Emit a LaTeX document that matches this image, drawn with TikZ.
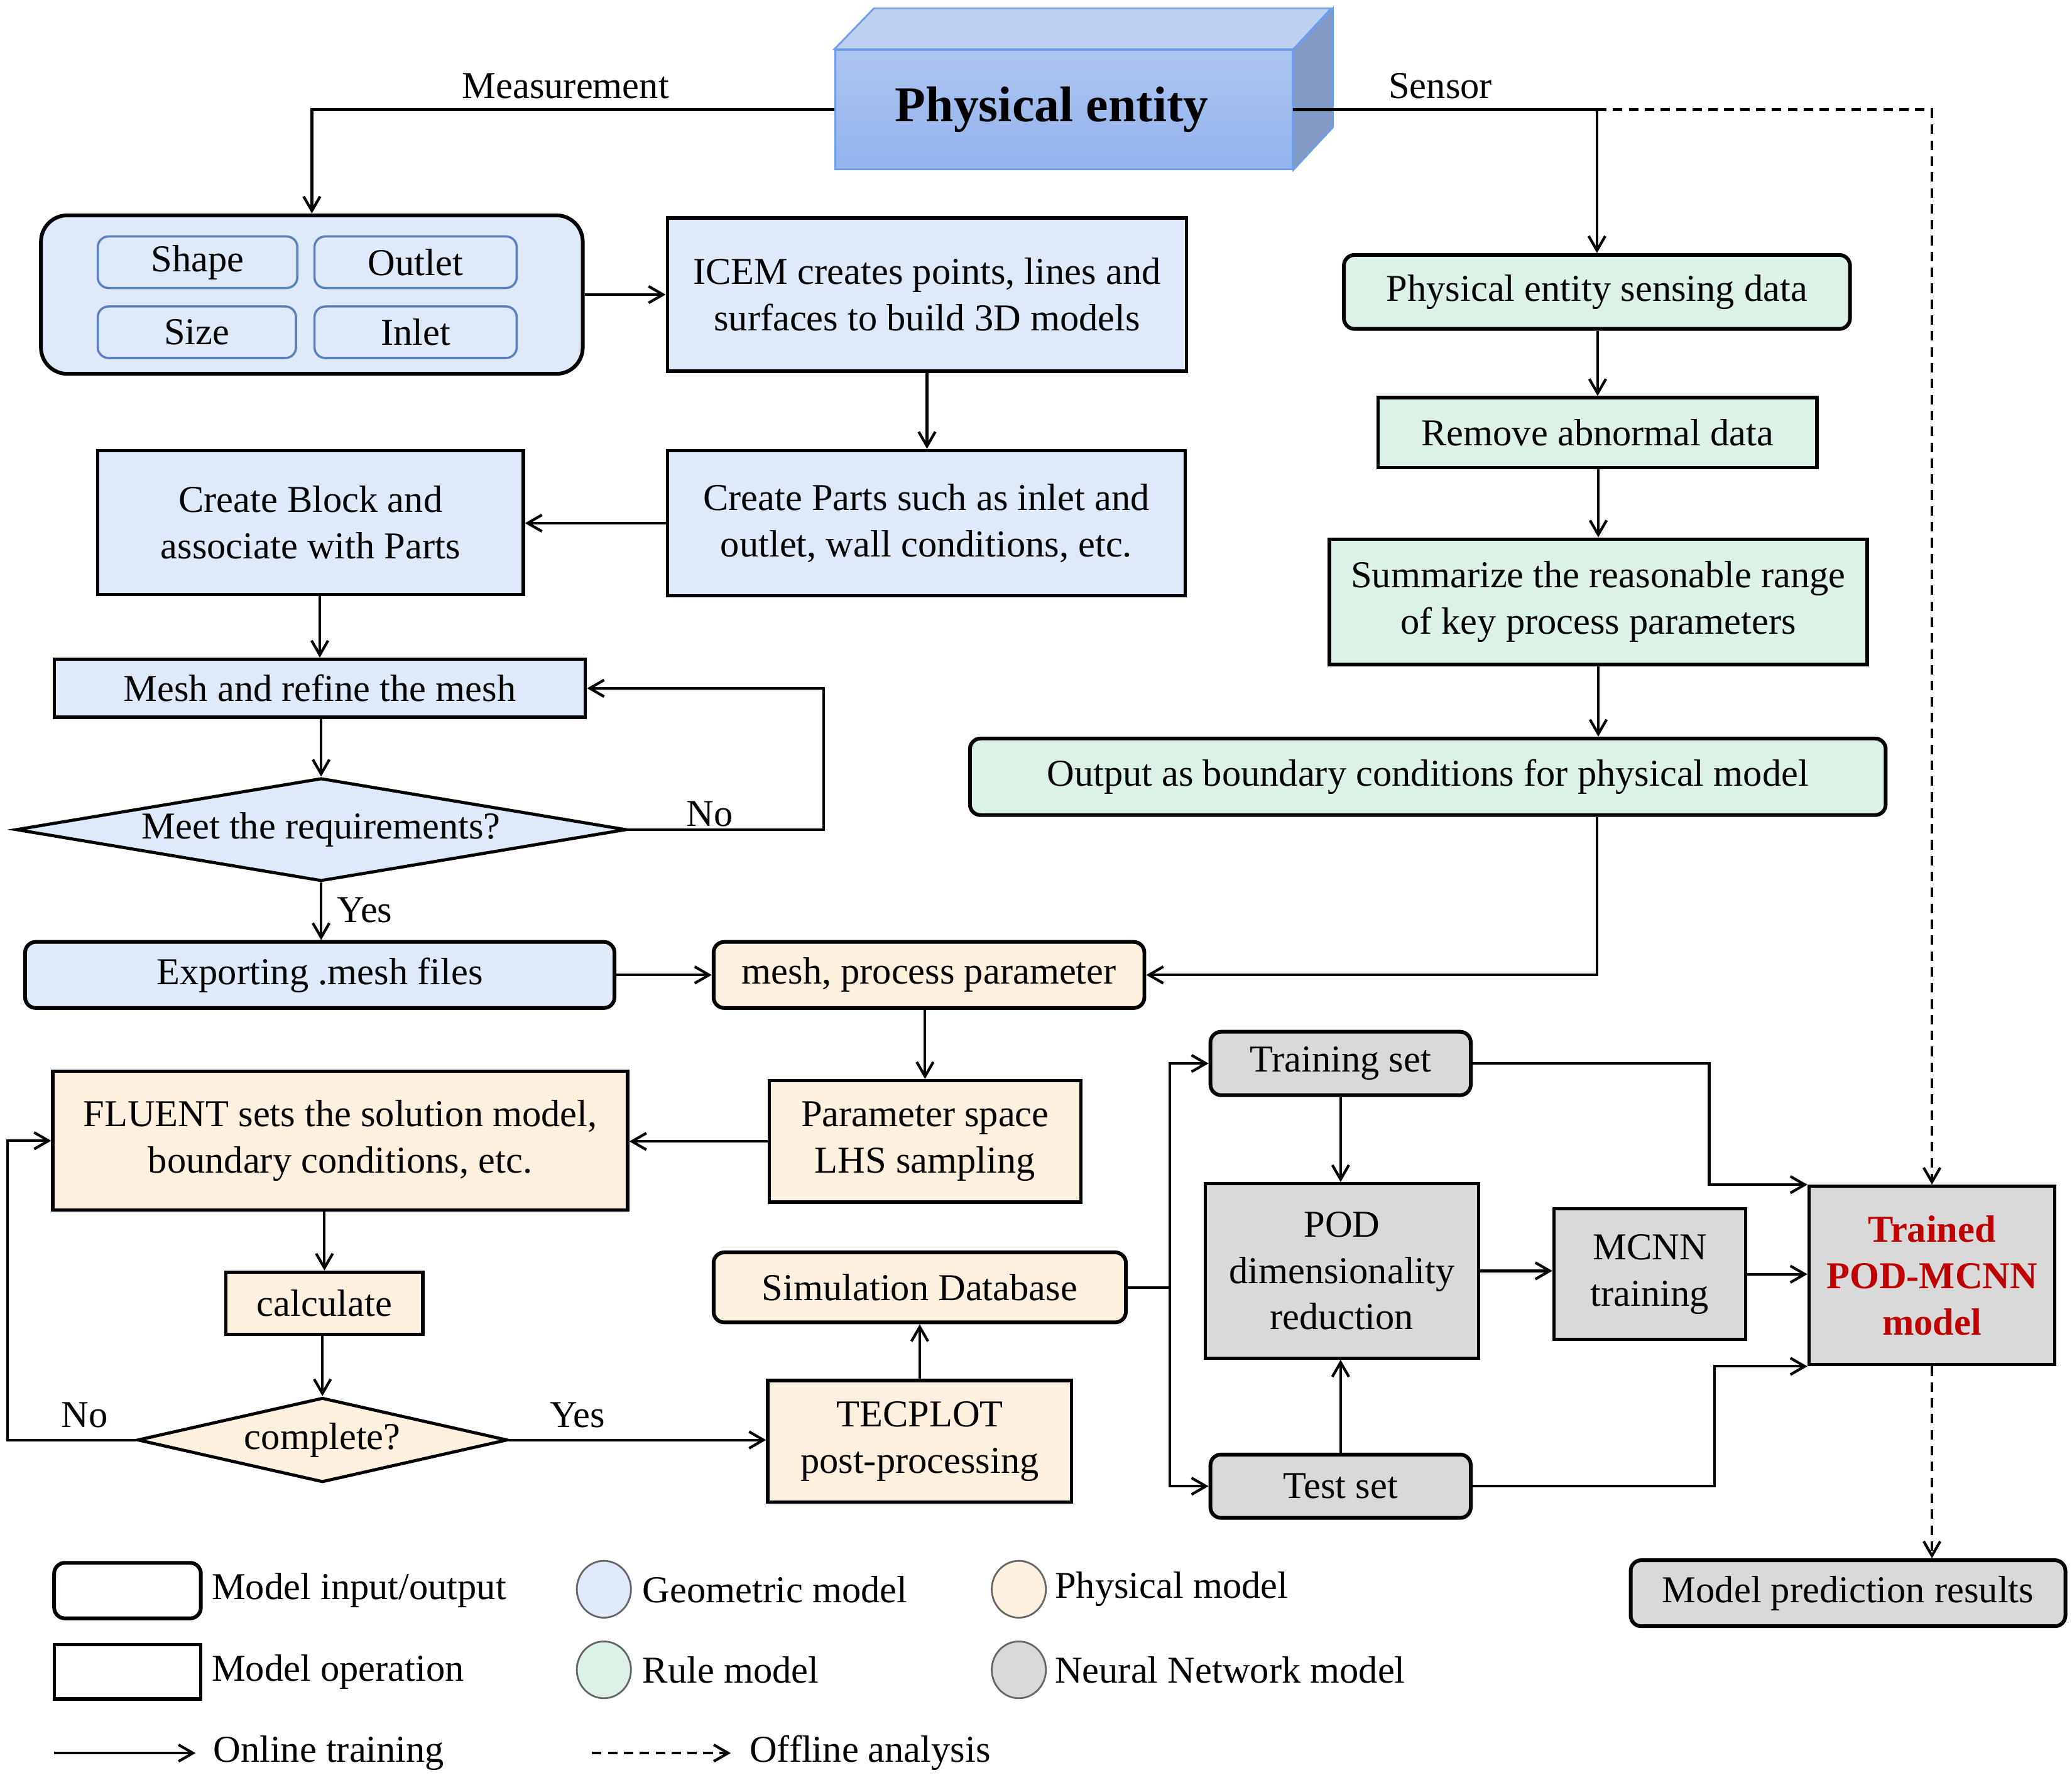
\documentclass[tikz,border=0pt]{standalone}
\usepackage{fontspec}
\setmainfont{Liberation Serif}
\usetikzlibrary{arrows.meta,shapes.geometric,calc}
\definecolor{geo}{HTML}{DEE9F9}
\definecolor{rule}{HTML}{DDF2E7}
\definecolor{phys}{HTML}{FDF0DF}
\definecolor{nn}{HTML}{D9D9D9}
\definecolor{inblue}{HTML}{5B7FBF}
\definecolor{peborder}{HTML}{6E9EEA}
\definecolor{petop}{HTML}{BFD1F3}
\definecolor{pefront1}{HTML}{ADC5F1}
\definecolor{pefront2}{HTML}{93B3EE}
\definecolor{peside}{HTML}{8399C6}
\definecolor{darkred}{HTML}{C00000}
\begin{document}
\begin{tikzpicture}[x={(0.021033cm,0)}, y={(0,-0.021033cm)},
  font=\fontsize{17.2}{21}\selectfont,
  sz/.style 2 args={minimum width=#1*0.021033cm, minimum height=#2*0.021033cm},
  base/.style={inner sep=0pt, align=center},
  opbox/.style={base, draw, line width=1.5pt},
  iobox/.style={base, draw, line width=1.7pt, rounded corners=0.17cm},
  inbox/.style={base, draw=inblue, line width=1pt, rounded corners=0.17cm, fill=geo},
  dia/.style={base, draw, line width=1.4pt, shape=diamond},
  ell/.style={draw=black!60, line width=0.8pt, shape=ellipse, inner sep=0pt},
  arr/.style={line width=1.2pt, -{Straight Barb[length=6.5pt,width=7.5pt]}},
  darr/.style={arr, dash pattern=on 4.3pt off 2.9pt},
  lbl/.style={inner sep=0pt}
]
\useasboundingbox (0,0) rectangle (1568,1347);

% Physical entity (3D box)
\node[base, sz={346}{90}, top color=pefront1, bottom color=pefront2, draw=peborder, line width=0.8pt] (pe) at (805,83) {};
\draw[draw=peborder, line width=0.8pt, fill=petop] (pe.north west) -- ++(30,-31) -- ++(346,0) -- (pe.north east) -- cycle;
\draw[draw=peborder, line width=0.8pt, fill=peside] (pe.north east) -- ++(30,-31) -- ++(0,90) -- (pe.south east) -- cycle;
\node[lbl, font=\fontsize{22.7}{26}\selectfont\bfseries] (pet) at (796,83) {Physical entity};

% Geometric column
\node[iobox, fill=geo, sz={410}{120}, rounded corners=0.42cm] (grp) at (236,223) {};
\node[inbox, sz={151}{39}] (shape) at (149.5,198.5) {Shape};
\node[inbox, sz={153}{39}] (outlet) at (314.5,198.5) {Outlet};
\node[inbox, sz={150}{39}] (size) at (149,251.5) {Size};
\node[inbox, sz={153}{39}] (inlet) at (314.5,251.5) {Inlet};

\node[opbox, fill=geo, sz={393}{116}] (icem) at (701.5,223) {ICEM creates points, lines and\\surfaces to build 3D models};
\node[opbox, fill=geo, sz={392}{110}] (parts) at (701,396) {Create Parts such as inlet and\\outlet, wall conditions, etc.};
\node[opbox, fill=geo, sz={322}{109}] (block) at (235,395.5) {Create Block and\\associate with Parts};
\node[opbox, fill=geo, sz={402}{44}] (mesh) at (242,521) {Mesh and refine the mesh};
\node[dia, fill=geo, sz={462}{78}, aspect=5.9] (req) at (243,628) {Meet the requirements?};
\node[iobox, fill=geo, sz={446}{50}] (exp) at (242,738) {Exporting .mesh files};

% Physical model
\node[iobox, fill=phys, sz={326}{50}] (mp) at (703,738) {mesh, process parameter};
\node[opbox, fill=phys, sz={236}{92}] (ps) at (700,864) {Parameter space\\LHS sampling};
\node[opbox, fill=phys, sz={435}{105}] (fl) at (257.5,863.5) {FLUENT sets the solution model,\\boundary conditions, etc.};
\node[opbox, fill=phys, sz={149}{47}] (calc) at (245.5,986.5) {calculate};
\node[dia, fill=phys, sz={280}{64}, aspect=4.4] (comp) at (244,1090) {complete?};
\node[opbox, fill=phys, sz={230}{92}] (tec) at (696,1091) {TECPLOT\\post-processing};
\node[iobox, fill=phys, sz={312}{53}] (sdb) at (696,974.5) {Simulation Database};

% Neural network
\node[iobox, fill=nn, sz={197}{48}] (train) at (1014.5,805) {Training set};
\node[iobox, fill=nn, sz={197}{48}] (test) at (1014.5,1125) {Test set};
\node[opbox, fill=nn, sz={207}{132}] (pod) at (1015.5,962) {POD\\dimensionality\\reduction};
\node[opbox, fill=nn, sz={145}{99}] (mcnn) at (1248.5,964.5) {MCNN\\training};
\node[opbox, fill=nn, sz={186}{135}, text=darkred, font=\fontsize{17.2}{21}\selectfont\bfseries] (trained) at (1462,965.5) {Trained\\POD-MCNN\\model};
\node[iobox, fill=nn, sz={329}{50}] (pred) at (1398.5,1206) {Model prediction results};

% Rule model
\node[iobox, fill=rule, sz={383}{56}] (sens) at (1208.5,221) {Physical entity sensing data};
\node[opbox, fill=rule, sz={332}{53}] (rem) at (1209,327.5) {Remove abnormal data};
\node[opbox, fill=rule, sz={407}{95}] (sum) at (1209.5,455.5) {Summarize the reasonable range\\of key process parameters};
\node[iobox, fill=rule, sz={693}{58}] (out) at (1080.5,588) {Output as boundary conditions for physical model};

% Connectors
\draw[arr] (pe.west) -| (grp.north);
\node[lbl] (lmeas) at (428,65) {Measurement};
\draw[arr] (pe.east) -| (sens.north);
\node[lbl] (lsens) at (1090,65) {Sensor};
\coordinate (sj) at (sens.north |- pe.east);
\draw[darr] (sj) -| (trained.north);

\draw[arr] (grp.east) -- (icem.west |- grp.east);
\draw[arr] (icem.south) -- (icem.south |- parts.north);
\draw[arr] (parts.west) -- (block.east |- parts.west);
\draw[arr] (mesh.north |- block.south) -- (mesh.north);
\draw[arr] (mesh.south -| req.north) -- (req.north);
\draw[arr] (req.east) -- ++(148,0) |- (mesh.east);
\node[lbl] (lno1) at (537,616) {No};
\draw[arr] (req.south) -- (req.south |- exp.north);
\node[lbl] (lyes1) at (276,689) {Yes};
\draw[arr] (exp.east) -- (mp.west |- exp.east);
\draw[arr] (out.south -| sens.south) |- (mp.east);
\draw[arr] (mp.south -| ps.north) -- (ps.north);
\draw[arr] (ps.west) -- (fl.east |- ps.west);
\draw[arr] (calc.north |- fl.south) -- (calc.north);
\draw[arr] (calc.south -| comp.north) -- (comp.north);
\draw[arr] (comp.west) -- ++(-97,0) |- (fl.west);
\node[lbl] (lno2) at (64,1071) {No};
\draw[arr] (comp.east) -- (tec.west |- comp.east);
\node[lbl] (lyes2) at (437,1071) {Yes};
\draw[arr] (tec.north) -- (tec.north |- sdb.south);

\draw[line width=1.2pt] (sdb.east) -- ++(32,0) coordinate (br);
\draw[arr] (br) |- (train.west);
\draw[arr] (br) |- (test.west);
\draw[arr] (train.south) -- (train.south |- pod.north);
\draw[arr] (test.north) -- (test.north |- pod.south);
\draw[arr] (pod.east) -- (mcnn.west |- pod.east);
\draw[arr] (mcnn.east) -- (trained.west |- mcnn.east);
\draw[arr] (train.east) -- ++(179,0) |- (trained.north west);
\draw[arr] (test.east) -- ++(183,0) |- (trained.south west);
\draw[darr] (trained.south) -- (trained.south |- pred.north);

\draw[arr] (sens.south -| rem.north) -- (rem.north);
\draw[arr] (rem.south -| sum.north) -- (sum.north);
\draw[arr] (sum.south) -- (sum.south |- out.north);

% Legend
\node[iobox, fill=white, sz={111}{42}] (lgio) at (96.5,1204) {};
\node[lbl, anchor=west] (lgiot) at (160,1204) {Model input/output};
\node[opbox, fill=white, sz={111}{41}] (lgop) at (96.5,1265.5) {};
\node[lbl, anchor=west] (lgopt) at (160,1265.5) {Model operation};
\node[ell, fill=geo, sz={41}{43}] (lgg) at (457,1203) {};
\node[lbl, anchor=west] (lggt) at (486,1203) {Geometric model};
\node[ell, fill=rule, sz={41}{43}] (lgr) at (457,1264) {};
\node[lbl, anchor=west] (lgrt) at (486,1264) {Rule model};
\node[ell, fill=phys, sz={41}{43}] (lgp) at (771,1203) {};
\node[lbl, anchor=west] (lgpt) at (798,1203) {Physical model};
\node[ell, fill=nn, sz={41}{43}] (lgn) at (771,1264) {};
\node[lbl, anchor=west] (lgnt) at (798,1264) {Neural Network model};
\coordinate (ol1) at (41,1327);
\coordinate (ol2) at (148,1327);
\draw[arr] (ol1) -- (ol2);
\node[lbl, anchor=west] (olt) at (161,1327) {Online training};
\coordinate (of1) at (448,1327);
\coordinate (of2) at (553,1327);
\draw[darr] (of1) -- (of2);
\node[lbl, anchor=west] (oft) at (567,1327) {Offline analysis};
\end{tikzpicture}
\end{document}
